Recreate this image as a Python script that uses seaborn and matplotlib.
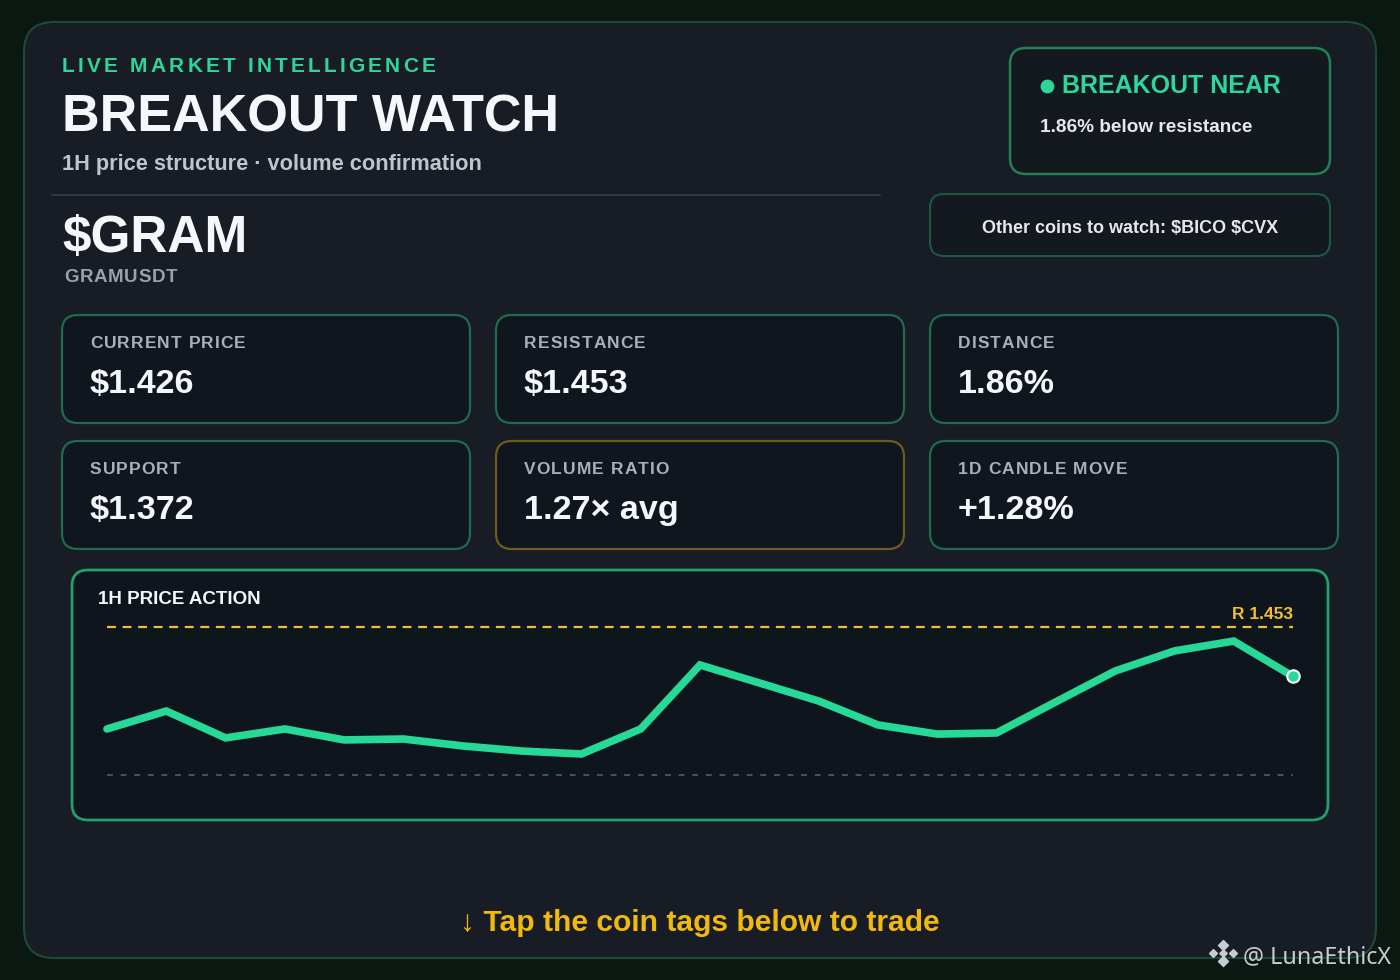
import numpy as np
import pandas as pd
import matplotlib
matplotlib.use("Agg")
import matplotlib.pyplot as plt
from matplotlib.patches import FancyBboxPatch, Rectangle
import seaborn as sns

# ---------------- data ----------------
hours = list(range(21))
prices = [1.3972, 1.4070, 1.3923, 1.3972, 1.3912, 1.3917, 1.3879, 1.3851, 1.3835,
          1.3972, 1.4322, 1.4224, 1.4125, 1.3994, 1.3944, 1.3950, 1.4120, 1.4289,
          1.4399, 1.4453, 1.4260]
resistance = 1.453
support = 1.372
card_labels = ["CURRENT PRICE", "RESISTANCE", "DISTANCE",
               "SUPPORT", "VOLUME RATIO", "1D CANDLE MOVE"]
card_values = ["$1.426", "$1.453", "1.86%", "$1.372", "1.27× avg", "+1.28%"]

# ---------------- style ----------------
sns.set_theme(style="dark")
plt.rcParams["font.family"] = ["Liberation Sans", "DejaVu Sans"]
plt.rcParams["text.parse_math"] = False

W, H = 1400, 980
fig = plt.figure(figsize=(14, 9.8), dpi=100)
fig.patch.set_facecolor("#0b1812")
bg = fig.add_axes([0, 0, 1, 1])
bg.set_xlim(0, W)
bg.set_ylim(H, 0)
bg.axis("off")
bg.set_facecolor("none")

GREEN = "#2ed69a"
WHITE = "#f5f7fa"
GRAY = "#aab0ba"
GOLD = "#f0b90b"

renderer = fig.canvas.get_renderer()


def box(x0, y0, x1, y1, fc, ec, r=16, lw=1.5, z=1):
    p = FancyBboxPatch((x0, y0), x1 - x0, y1 - y0,
                       boxstyle=f"round,pad=0,rounding_size={r}",
                       fc=fc, ec=ec, lw=lw, zorder=z)
    bg.add_patch(p)


def spaced(x, y, s, spacing, size, **kw):
    px = size * 100 / 72
    for ch in s:
        if ch == " ":
            x += 0.278 * px + spacing
            continue
        t = bg.text(x, y, ch, fontsize=size, va="baseline", ha="left", **kw)
        bb = t.get_window_extent(renderer)
        x += bb.width + spacing


bg.add_patch(Rectangle((0, 0), W, H, fc="#0b1812", ec="none", zorder=0))

# main panel
box(24, 22, 1376, 958, "#181c24", "#1d4a36", r=30, lw=1.5, z=1)

# header
spaced(62, 72, "LIVE MARKET INTELLIGENCE", 3.2, 15, color=GREEN, fontweight="bold", zorder=5)
bg.text(62, 132, "BREAKOUT WATCH", fontsize=37.5, color=WHITE, fontweight="bold",
        va="baseline", zorder=5)
bg.text(62, 170, "1H price structure · volume confirmation", fontsize=15.7, color="#c0c5cc",
        fontweight="bold", va="baseline", zorder=5)
bg.plot([52, 880], [195, 195], color="#2f3840", lw=1.5, zorder=3)
bg.text(62, 252, "$GRAM", fontsize=37, color=WHITE, fontweight="bold",
        va="baseline", zorder=5)
spaced(64, 282, "GRAMUSDT", 0.8, 13.5, color="#9ba1ab", fontweight="bold", zorder=5)

# breakout box
box(1010, 48, 1330, 174, "#141920", "#228057", r=16, lw=1.8, z=2)
bg.scatter([1047], [86], s=80, color=GREEN, zorder=5)
bg.text(1062, 93, "BREAKOUT NEAR", fontsize=18, color=GREEN, fontweight="bold",
        va="baseline", zorder=5)
bg.text(1040, 132, "1.86% below resistance", fontsize=13.7, color="#e6e8ec",
        fontweight="bold", va="baseline", zorder=5)

# other coins box
box(930, 194, 1330, 256, "#141920", "#1c5a40", r=14, lw=1.5, z=2)
bg.text(1130, 233, "Other coins to watch: $BICO $CVX", fontsize=13, color="#e6e8ec",
        fontweight="bold", va="baseline", ha="center", zorder=5)

# cards
cols = [62, 496, 930]
rows = [315, 441]
for i, (lab, val) in enumerate(zip(card_labels, card_values)):
    r, c = divmod(i, 3)
    x0, y0 = cols[c], rows[r]
    ec = "#6e5c1f" if lab == "VOLUME RATIO" else "#1f6b4d"
    box(x0, y0, x0 + 408, y0 + 108, "#10161d", ec, r=16, lw=1.6, z=2)
    spaced(x0 + 28, y0 + 33, lab, 1.1, 12.5, color=GRAY, fontweight="bold", zorder=5)
    bg.text(x0 + 28, y0 + 78, val, fontsize=24.6, color=WHITE, fontweight="bold",
            va="baseline", zorder=5)

# chart panel
box(72, 570, 1328, 820, "#0f151c", "#22a06b", r=16, lw=2, z=2)
bg.text(98, 604, "1H PRICE ACTION", fontsize=13.5, color=WHITE, fontweight="bold",
        va="baseline", zorder=5)
bg.text(1293, 619, f"R {resistance:.3f}", fontsize=12.5, color="#f0c030",
        fontweight="bold", va="baseline", ha="right", zorder=5)

# footer
bg.text(700, 931, "↓ Tap the coin tags below to trade", fontsize=21.6, color=GOLD,
        fontweight="bold", va="baseline", ha="center", zorder=5)

# watermark
lx, ly = 1223, 953
for dx, dy, s in [(0, -8, 26), (0, 8, 26), (-10, 0, 16), (10, 0, 16), (0, 0, 14)]:
    bg.scatter([lx + dx], [ly + dy], marker="D", s=s, color="#c8ccd0", zorder=6)
bg.text(1243, 963, "@ LunaEthicX", fontsize=16.8, color="#c8ccd0",
        family=["Noto Sans", "DejaVu Sans"], va="baseline", zorder=6)

# ---------------- line chart (seaborn) ----------------
k = (resistance - support) / (775 - 627)
ay0, ay1 = 600, 800
ax = fig.add_axes([107 / W, 1 - ay1 / H, (1293 - 107) / W, (ay1 - ay0) / H])
ax.set_facecolor("none")
ax.patch.set_alpha(0)
df = pd.DataFrame({"hour": hours, "price": prices})
sns.lineplot(data=df, x="hour", y="price", ax=ax, color="#26d996", lw=5.5,
             solid_joinstyle="miter", clip_on=False)
ax.axhline(resistance, color="#e8c23a", lw=1.6, ls=(0, (4, 3)))
ax.axhline(support, color="#4a525a", lw=1.4, ls=(0, (3, 4)))
ax.scatter([hours[-1]], [prices[-1]], s=80, color="#26d996", edgecolor="white",
           linewidth=1.5, zorder=10, clip_on=False)
ax.set_xlim(0, 20)
ax.set_ylim(resistance - (ay1 - 627) * k, resistance + (627 - ay0) * k)
ax.axis("off")

fig.savefig("out.png", dpi=100, facecolor=fig.get_facecolor())
